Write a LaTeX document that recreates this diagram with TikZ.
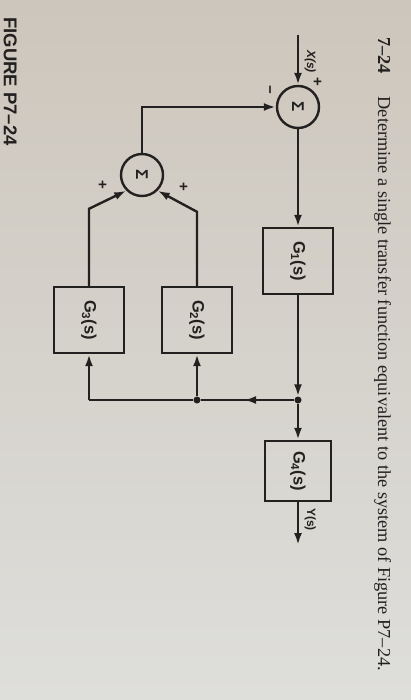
\documentclass[tikz,border=0pt]{standalone}
\usepackage{fontspec}
\setmainfont{Liberation Serif}
\newfontfamily\diagfont{Liberation Sans}
\usetikzlibrary{arrows.meta}
\definecolor{paperTop}{RGB}{205,198,188}
\definecolor{paperBot}{RGB}{222,222,219}
\definecolor{ink}{RGB}{35,33,32}

\begin{document}
\begin{tikzpicture}[
x=1pt, y=1pt,
blk/.style={draw=ink, line width=2.4pt, minimum width=66pt, minimum height=70pt, inner sep=0pt, text=ink, font=\diagfont\fontsize{16.5}{16}\selectfont\bfseries},
sumnode/.style={circle, draw=ink, line width=2.4pt, minimum size=42pt, inner sep=0pt, text=ink, font=\diagfont\fontsize{17}{17}\selectfont\bfseries},
sgn/.style={inner sep=0pt, text=ink, font=\diagfont\fontsize{15}{15}\selectfont\bfseries},
sig/.style={anchor=base west, inner sep=0pt, text=ink, font=\diagfont\fontsize{12}{12}\selectfont\bfseries},
dot/.style={circle, fill=ink, minimum size=7pt, inner sep=0pt},
wire/.style={line width=2.4pt, draw=ink},
arrow/.style={wire, -{Latex[length=12pt,width=8pt]}}
]
\shade[top color=paperTop, bottom color=paperBot] (0,0) rectangle (411,-700);
\useasboundingbox (0,0) rectangle (411,-700);

% page is photographed turned by a quarter
\begin{scope}[rotate=-90, transform shape]
\node[anchor=base west, inner sep=0pt, text=ink, font=\fontsize{18.3}{20}\selectfont] (title) at (37,378)
  {\textbf{7–24}\hspace{1.25em}Determine a single transfer function equivalent to the system of Figure P7–24.};
\node[anchor=base west, inner sep=0pt, text=ink, font=\diagfont\fontsize{18.5}{20}\selectfont\bfseries] (figlbl) at (17,4) {FIGURE P7–24};

\coordinate (xin) at (35,298);
\node[sumnode] (s1) at (107,298) {Σ};
\node[blk] (g1) at (261,298) {G\textsubscript{1}(s)};
\node[dot] (j1) at (400,298) {};
\node[blk, minimum width=60pt, minimum height=66pt] (g4) at (471,298) {G\textsubscript{4}(s)};
\coordinate (yout) at (545,298);

\node[sumnode] (s2) at (175,142) {Σ};
\node[blk] (g2) at (320,197) {G\textsubscript{2}(s)};
\node[blk] (g3) at (320,89) {G\textsubscript{3}(s)};
\node[dot] (j2) at (400,197) {};
\coordinate (k3) at (400,89);
\coordinate (am) at (400,244);

% signs and signal names
\node[sig] (xlbl) at (50,307) {\itshape X(s)};
\node[sgn] (p1) at (82,317) {+};
\node[sgn] (m1) at (90,268) {−};
\node[sgn] (p2) at (187,183) {+};
\node[sgn] (p3) at (185,102) {+};
\node[sig] (ylbl) at (508,307) {Y(s)};

\draw[arrow] (xin) -- (s1);
\draw[arrow] (s1) -- (g1);
\draw[arrow] (g1) -- (j1);
\draw[arrow] (j1) -- (g4);
\draw[arrow] (g4) -- (yout);
\draw[arrow] (j1) -- (am);
\draw[wire] (j1) -- (j2) -- (k3);
\draw[arrow] (j2) -- (g2);
\draw[arrow] (k3) -- (g3);
\draw[arrow] (g2.west) -- ++(-74,0) -- (s2.45);
\draw[arrow] (g3.west) -- ++(-77,0) -- (s2.-45);
\draw[arrow] (s2.west) -| (s1.south);
\end{scope}
\end{tikzpicture}
\end{document}
